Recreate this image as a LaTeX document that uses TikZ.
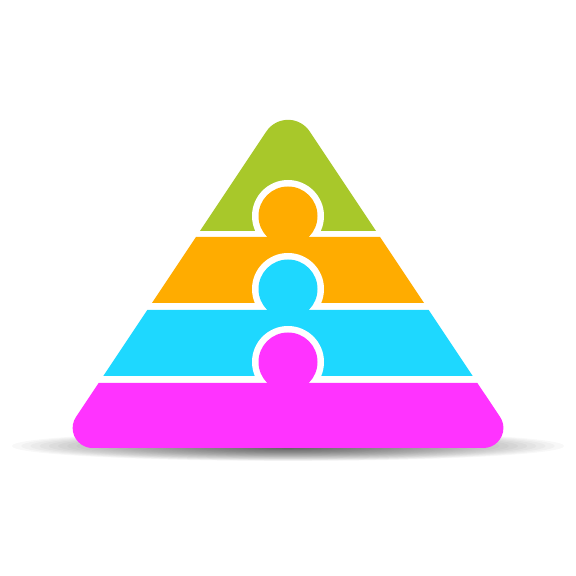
\documentclass[tikz,border=0pt]{standalone}
\definecolor{pgreen}{RGB}{168,200,42}
\definecolor{porange}{RGB}{255,172,0}
\definecolor{pcyan}{RGB}{30,216,255}
\definecolor{pmagenta}{RGB}{255,51,255}
\tikzset{
  ring/.style={fill=white},
  shadowlayer/.style={fill=black, fill opacity=0.026},
}
\begin{document}
\begin{tikzpicture}[x=1pt,y=1pt]
\useasboundingbox[fill=white] (0,0) rectangle (576,576);
% shadow
\foreach \i in {0,...,29}{
  \fill[shadowlayer] (288,130) ellipse[x radius={276*(1-\i/30)}, y radius={15*(1-\i/34)}];
}
% green top
\fill[pgreen] (200,345) -- (266.4,444.6) arc[start angle=146.3, end angle=33.7, radius=26] -- (376,345) -- cycle;
% orange layer
\fill[ring] (288,360) circle[radius=36];
\fill[porange] (196,339) -- (380,339) -- (424,273) -- (152,273) -- cycle;
\fill[porange] (288,360) circle[radius=29.5];
% cyan layer
\fill[ring] (288,287) circle[radius=36];
\fill[pcyan] (147.3,266) -- (428.7,266) -- (472.7,200) -- (103.3,200) -- cycle;
\fill[pcyan] (288,287) circle[radius=29.5];
% magenta layer
\fill[ring] (288,214) circle[radius=36];
\fill[pmagenta] (98.6,193) -- (76,159.1) arc[start angle=146.3, end angle=270, radius=20]
  -- (483.4,128) arc[start angle=-90, end angle=33.7, radius=20] -- (477.4,193) -- cycle;
\fill[pmagenta] (288,214) circle[radius=29.5];
\end{tikzpicture}
\end{document}
